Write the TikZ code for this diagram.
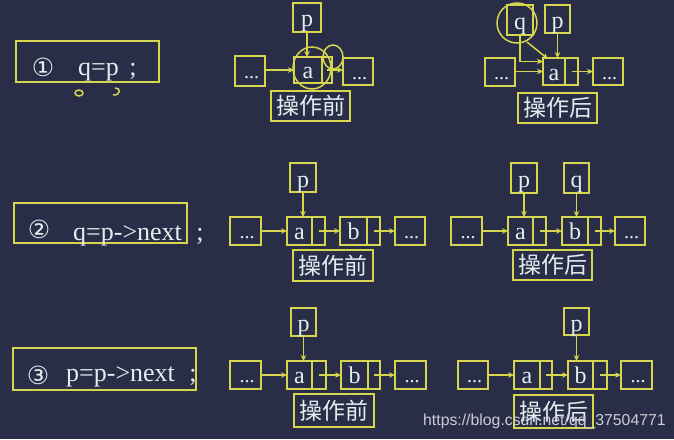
\documentclass[tikz,border=0pt]{standalone}
\usepackage{fontspec}
\setmainfont{Liberation Serif}
\newfontfamily\cjk{Noto Sans CJK SC}
\newfontfamily\dvs{DejaVu Sans}
\newfontfamily\lsans{Liberation Sans}
\usetikzlibrary{arrows.meta}
\definecolor{bg}{HTML}{2A2D47}
\definecolor{ylw}{HTML}{D6D64E}
\definecolor{txt}{HTML}{E2EEEE}
\definecolor{wmc}{HTML}{C9CDD6}
\newcommand\bx[7][]{\node[box,#1,minimum width={(#5-#3)*1pt},minimum height={(#6-#4)*1pt}] (#2) at ({(#3+#5)/2},{(#4+#6)/2}) {#7};}
\begin{document}
\begin{tikzpicture}[x=1pt,y=-1pt,
 box/.style={draw=ylw,line width=1.7pt,inner sep=0pt,outer sep=0pt,text=txt},
 cell/.style={font=\fontsize{24}{24}\selectfont,text height=17pt,text depth=0pt},
 ptrv/.style={font=\fontsize{24}{24}\selectfont,text height=19pt,text depth=0pt},
 dots/.style={font=\fontsize{20}{20}\selectfont,text height=15pt,text depth=0pt},
 op/.style={font=\cjk\fontsize{23}{23}\selectfont},
 arr/.style={draw=ylw,line width=1.5pt,-{Stealth[length=6pt,width=5.5pt]}},
 scrib/.style={draw=ylw,line width=1.5pt},
 code/.style={text=txt,font=\fontsize{26}{26}\selectfont,inner sep=0pt},
 num/.style={text=txt,font=\dvs\fontsize{25}{25}\selectfont,inner sep=0pt},
]
\fill[bg] (0,0) rectangle (674,439);
\useasboundingbox (0,0) rectangle (674,439);

% ---------- row 1 label
\bx{c1}{16}{41}{159}{82}{}
\node[num] (n1) at (43,67) {①};
\node[code,anchor=base west] (t1) at (78,75) {q=p};
\node[code,anchor=base] (s1) at (133,75) {;};
\draw[scrib] (79,93) ellipse [x radius=4,y radius=3];
\draw[scrib] (115,88) .. controls (121,87) and (121,96) .. (113,95);

% ---------- row 1 before
\bx[dots]{L1}{235}{56}{265}{86}{\hspace*{3pt}...}
\bx[cell]{a1}{294}{57}{322}{83}{a}
\bx{a1p}{322}{57}{332}{83}{}
\bx[dots]{R1}{343}{58}{373}{85}{\hspace*{3pt}...}
\bx[ptrv]{p1}{293}{3}{321}{32}{p}
\bx[op]{o1}{271}{91}{350}{121}{操作前}
\draw[arr] (L1.east |- a1.west) -- (a1.west);
\draw[arr] (a1p.center) -- (R1.west |- a1p.center);
\draw[arr] (p1.south) -- (p1.south |- a1.north);
\draw[scrib] (312,68) ellipse [x radius=19,y radius=21];
\draw[scrib] (333,57) ellipse [x radius=10,y radius=12];

% ---------- row 1 after
\bx[ptrv]{q2}{507}{5}{533}{35}{q}
\bx[ptrv]{p2}{545}{5}{570}{33}{p}
\bx[dots]{L2}{485}{58}{515}{86}{\hspace*{3pt}...}
\bx[cell]{a2}{543}{58}{565}{85}{a}
\bx{a2p}{565}{58}{578}{85}{}
\bx[dots]{R2}{593}{58}{623}{85}{\hspace*{3pt}...}
\bx[op]{o2}{518}{93}{597}{123}{操作后}
\draw[arr] (L2.east |- a2.west) -- (a2.west);
\draw[arr] (a2p.center) -- (R2.west |- a2p.center);
\draw[arr] (p2.south) -- (p2.south |- a2.north);
\draw[arr] (q2.south) |- ([yshift=10pt]a2.west);
\draw[scrib] (517,23) circle [radius=20];
\coordinate (d1) at (527,42);
\coordinate (d2) at (548,59);
\draw[arr] (d1) -- (d2);

% ---------- row 2 label
\bx{c2}{14}{203}{187}{243}{}
\node[num] (n2) at (39,229) {②};
\node[code,anchor=base west] (t2) at (73,240) {q=p->next};
\node[code,anchor=base] (s2) at (200,240) {;};

% ---------- row 2 before
\bx[ptrv]{p3}{290}{163}{316}{192}{p}
\bx[dots]{L3}{230}{217}{261}{245}{\hspace*{3pt}...}
\bx[cell]{a3}{287}{217}{312}{245}{a}
\bx{a3p}{312}{217}{325}{245}{}
\bx[cell]{b3}{340}{217}{367}{245}{b}
\bx{b3p}{367}{217}{380}{245}{}
\bx[dots]{R3}{395}{217}{425}{245}{\hspace*{3pt}...}
\bx[op]{o3}{293}{250}{373}{281}{操作前}
\draw[arr] (L3.east) -- (a3.west);
\draw[arr] (a3p.center) -- (b3.west);
\draw[arr] (b3p.center) -- (R3.west);
\draw[arr] (p3.south) -- (p3.south |- a3.north);

% ---------- row 2 after
\bx[ptrv]{p4}{511}{163}{537}{193}{p}
\bx[ptrv]{q4}{564}{163}{589}{193}{q}
\bx[dots]{L4}{451}{217}{482}{245}{\hspace*{3pt}...}
\bx[cell]{a4}{508}{217}{533}{245}{a}
\bx{a4p}{533}{217}{546}{245}{}
\bx[cell]{b4}{562}{217}{588}{245}{b}
\bx{b4p}{588}{217}{601}{245}{}
\bx[dots]{R4}{615}{217}{645}{245}{\hspace*{3pt}...}
\bx[op]{o4}{513}{250}{592}{280}{操作后}
\draw[arr] (L4.east) -- (a4.west);
\draw[arr] (a4p.center) -- (b4.west);
\draw[arr] (b4p.center) -- (R4.west);
\draw[arr] (p4.south) -- (p4.south |- a4.north);
\draw[arr] (q4.south) -- (q4.south |- b4.north);

% ---------- row 3 label
\bx{c3}{13}{348}{196}{390}{}
\node[num] (n3) at (38,375) {③};
\node[code,anchor=base west] (t3) at (66,381) {p=p->next};
\node[code,anchor=base] (s3) at (193,381) {;};

% ---------- row 3 before
\bx[ptrv]{p5}{291}{308}{316}{336}{p}
\bx[dots]{L5}{230}{361}{261}{389}{\hspace*{3pt}...}
\bx[cell]{a5}{287}{361}{312}{389}{a}
\bx{a5p}{312}{361}{326}{389}{}
\bx[cell]{b5}{341}{361}{368}{389}{b}
\bx{b5p}{368}{361}{380}{389}{}
\bx[dots]{R5}{395}{361}{426}{389}{\hspace*{3pt}...}
\bx[op]{o5}{294}{394}{374}{427}{操作前}
\draw[arr] (L5.east) -- (a5.west);
\draw[arr] (a5p.center) -- (b5.west);
\draw[arr] (b5p.center) -- (R5.west);
\draw[arr] (p5.south) -- (p5.south |- a5.north);

% ---------- row 3 after
\bx[ptrv]{p6}{564}{308}{589}{335}{p}
\bx[dots]{L6}{458}{361}{488}{389}{\hspace*{3pt}...}
\bx[cell]{a6}{514}{361}{540}{389}{a}
\bx{a6p}{540}{361}{552}{389}{}
\bx[cell]{b6}{568}{361}{593}{389}{b}
\bx{b6p}{593}{361}{607}{389}{}
\bx[dots]{R6}{621}{361}{652}{389}{\hspace*{3pt}...}
\bx[op]{o6}{514}{395}{593}{428}{操作后}
\draw[arr] (L6.east) -- (a6.west);
\draw[arr] (a6p.center) -- (b6.west);
\draw[arr] (b6p.center) -- (R6.west);
\draw[arr] (p6.south) -- (p6.south |- b6.north);

% ---------- watermark
\node[anchor=base west,text=wmc,font=\lsans\fontsize{15.8}{16}\selectfont,inner sep=0pt] (wm) at (423,425) {https://blog.csdn.net/qq\_37504771};
\end{tikzpicture}
\end{document}
